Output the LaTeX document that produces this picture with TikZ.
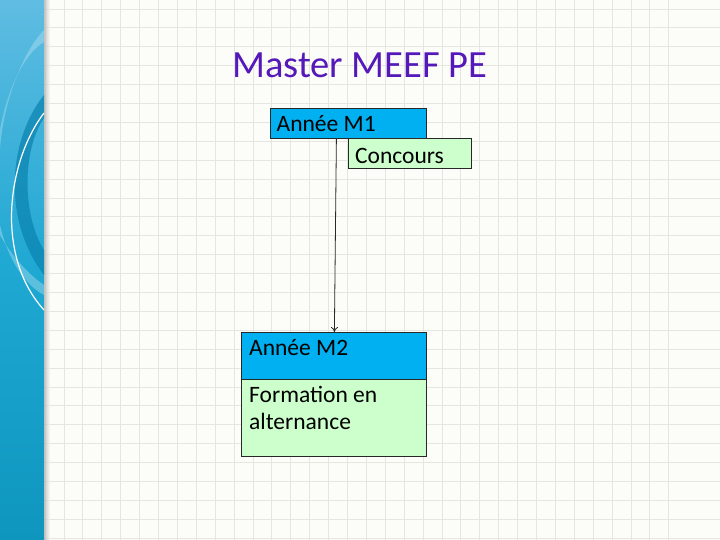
\documentclass[tikz,border=0pt]{standalone}
\usepackage{fontspec}
\setmainfont{Carlito}
\usetikzlibrary{arrows.meta}
\definecolor{bg}{RGB}{252,252,248}
\definecolor{gridc}{RGB}{230,230,224}
\definecolor{bandtop}{RGB}{96,188,226}
\definecolor{bandbot}{RGB}{14,150,190}
\definecolor{bandmid}{RGB}{30,168,210}
\definecolor{darkswoosh}{RGB}{10,130,175}
\definecolor{titlec}{RGB}{85,25,185}
\definecolor{boxblue}{RGB}{0,176,240}
\definecolor{boxgreen}{RGB}{204,255,204}
\definecolor{edge}{RGB}{40,40,40}
\tikzset{
  boxb/.style={draw=edge, line width=0.8pt, fill=boxblue, inner sep=0pt, anchor=north west},
  boxg/.style={draw=edge, line width=0.8pt, fill=boxgreen, inner sep=0pt, anchor=north west},
  lbl/.style={anchor=base west, inner sep=0pt, font=\fontsize{23.5}{26.7}\selectfont, text=black},
  arr/.style={draw=edge, line width=0.8pt, -{To[length=5pt,width=7pt]}}
}
\begin{document}
\begin{tikzpicture}[x=1pt,y=-1pt]
\useasboundingbox (0,0) rectangle (720,540);
% background
\fill[bg] (0,0) rectangle (720,540);
\foreach \i in {0,...,35} {
  \draw[gridc, line width=0.9pt] ({7.3+18.9*\i},0) -- ({7.3+18.9*\i},540);
}
\foreach \j in {0,...,28} {
  \draw[gridc, line width=0.9pt] (44,{9+18.9*\j}) -- (720,{9+18.9*\j});
}
% left band
\shade[top color=bandtop, bottom color=bandbot, middle color=bandmid] (0,0) rectangle (44,540);
\shade[left color=black!35, right color=bg, opacity=0.6] (44,0) rectangle (50,540);
\begin{scope}
  \clip (0,0) rectangle (44,540);
  \fill[darkswoosh, opacity=0.7] (44,95) .. controls (8,140) and (2,220) .. (44,275)
     -- (44,250) .. controls (22,215) and (22,150) .. (44,118) -- cycle;
  \fill[white, opacity=0.25] (44,30) .. controls (20,55) and (2,110) .. (0,150)
     -- (0,130) .. controls (6,95) and (22,55) .. (44,42) -- cycle;
  \fill[white, opacity=0.28] (0,225) .. controls (8,260) and (25,285) .. (44,295)
     -- (44,285) .. controls (25,272) and (8,250) .. (0,235) -- cycle;
  \draw[white, line width=1.2pt] (44,113) .. controls (8,160) and (-6,255) .. (44,310);
\end{scope}
% title
\node[anchor=base west, inner sep=0pt, text=titlec, font=\fontsize{38.5}{42}\selectfont] (title) at (232,78) {Master MEEF PE};
% boxes
\node[boxb, minimum width=156pt, minimum height=30pt] (m1) at (270,108) {};
\node[boxg, minimum width=123pt, minimum height=30pt] (conc) at (348,138) {};
\node[boxb, minimum width=185pt, minimum height=47pt] (m2head) at (241,332) {};
\node[boxg, minimum width=185pt, minimum height=76.5pt] (m2body) at (241,379) {};
% texts
\node[lbl] (t1) at (276.5,131.7) {Année M1};
\node[lbl] (t2) at (355,163.3) {Concours};
\node[lbl] (t3) at (249,355) {Année M2};
\node[lbl, align=left] (t4) at (249,429.3) {Formation en\\alternance};
% connector
\draw[arr] ([xshift=-12pt]m1.south) -- ([xshift=0.5pt]m2head.north);
\end{tikzpicture}
\end{document}
